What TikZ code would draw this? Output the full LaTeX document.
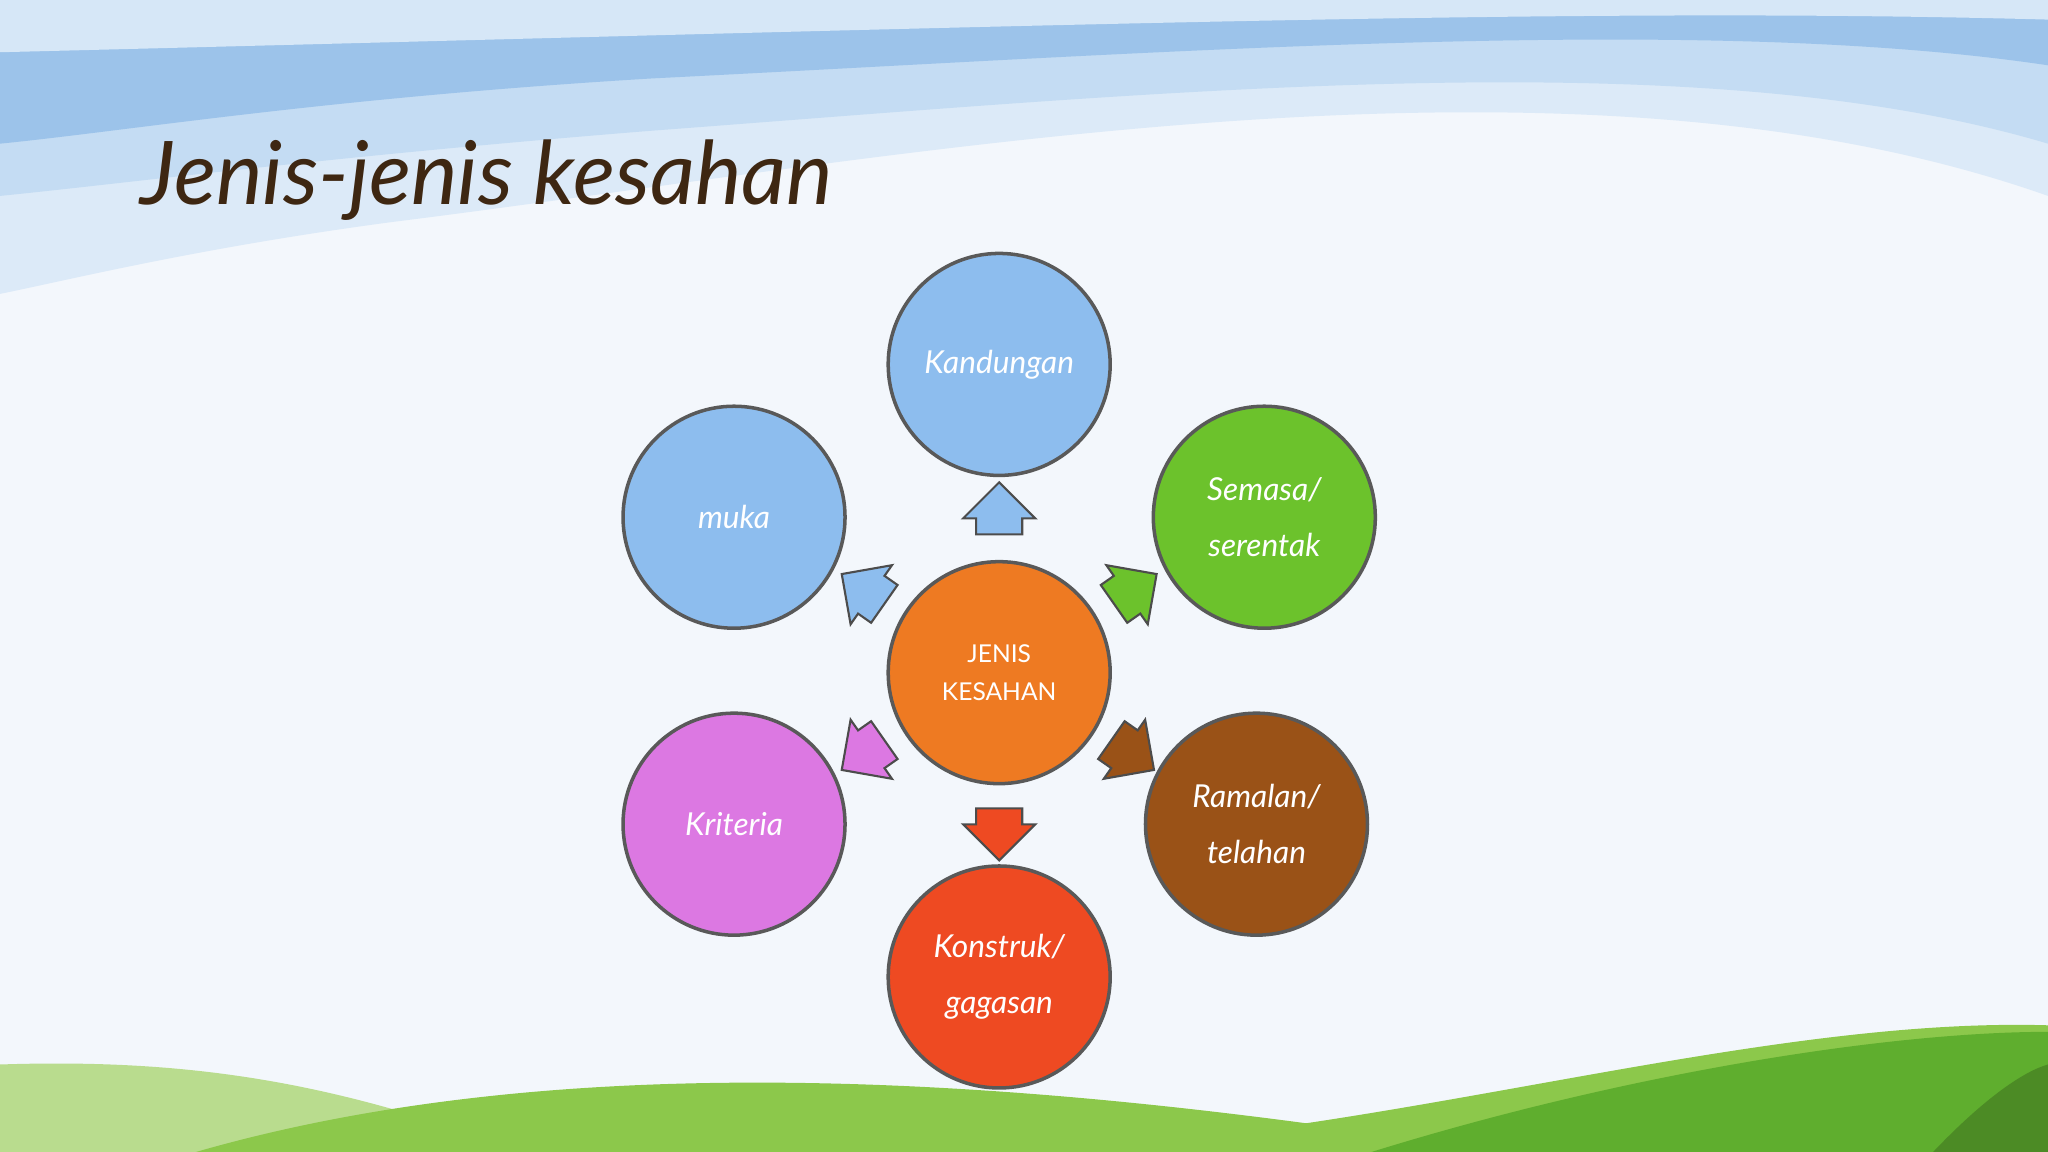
\documentclass[tikz,border=0pt]{standalone}
\usepackage{fontspec}
\setmainfont{Lato}
\usetikzlibrary{shapes.arrows}
\definecolor{bg}{HTML}{F3F7FC}
\definecolor{sky1}{HTML}{9CC3EA}
\definecolor{sky2}{HTML}{C4DCF3}
\definecolor{sky3}{HTML}{DCEAF8}
\definecolor{g1}{HTML}{5FAE2E}
\definecolor{g2}{HTML}{8CC84B}
\definecolor{g3}{HTML}{B9DC8E}
\definecolor{cblue}{HTML}{8DBDEE}
\definecolor{cgreen}{HTML}{6CC22C}
\definecolor{corange}{HTML}{EE7A22}
\definecolor{cbrown}{HTML}{9A5217}
\definecolor{cred}{HTML}{EE4A22}
\definecolor{cpink}{HTML}{DC78E2}
\definecolor{ttl}{HTML}{3E2712}
\tikzset{
  ball/.style={circle,draw=gray!70!black,line width=1pt,minimum size=2.22cm,text=white,font=\fontsize{9}{16}\selectfont\itshape,align=center,inner sep=0pt},
  barrow/.style={single arrow,draw=gray!60!black,line width=0.6pt,minimum height=0.52cm,inner xsep=0pt,inner ysep=0.22cm,single arrow head extend=0.13cm,single arrow head indent=0pt}
}
\begin{document}
\begin{tikzpicture}[x=0.013061cm,y=-0.013061cm]
\useasboundingbox (0,0) rectangle (1568,882);
\fill[bg] (0,0) rectangle (1568,882);
% sky
\fill[sky3] (0,0) -- (1568,0) -- (1568,150) .. controls (1200,20) and (700,120) .. (300,170) .. controls (150,190) and (50,215) .. (0,225) -- cycle;
\fill[sky2] (0,0) -- (1568,0) -- (1568,110) .. controls (1300,30) and (900,70) .. (500,100) .. controls (250,120) and (100,140) .. (0,150) -- cycle;
\fill[sky1] (0,0) -- (1568,0) -- (1568,50) .. controls (1300,10) and (900,40) .. (500,60) .. controls (250,75) and (100,100) .. (0,110) -- cycle;
\fill[sky2!70!white] (0,0) -- (1568,0) -- (1568,15) .. controls (1200,5) and (800,20) .. (0,40) -- cycle;
% hills
\fill[g3] (0,882) -- (0,815) .. controls (150,810) and (260,830) .. (400,882) -- cycle;
\fill[g2] (150,882) .. controls (400,810) and (700,820) .. (1000,860) .. controls (1200,830) and (1400,780) .. (1568,785) -- (1568,882) -- cycle;
\fill[g1] (1050,882) .. controls (1250,820) and (1450,790) .. (1568,790) -- (1568,882) -- cycle;
\fill[g1!80!black] (1480,882) .. controls (1520,840) and (1550,820) .. (1568,815) -- (1568,882) -- cycle;
% title
\node[anchor=west,text=ttl,font=\fontsize{25}{30}\selectfont\itshape] (title) at (98,138) {Jenis-jenis kesahan};
% circles
\node[ball,fill=corange,font=\fontsize{7}{11}\selectfont] (c) at (765,515) {JENIS\\KESAHAN};
\node[ball,fill=cblue] (k) at (765,279) {Kandungan};
\node[ball,fill=cgreen] (s) at (968,396) {Semasa/\\serentak};
\node[ball,fill=cbrown] (r) at (962,631) {Ramalan/\\telahan};
\node[ball,fill=cred] (g) at (765,748) {Konstruk/\\gagasan};
\node[ball,fill=cpink] (kr) at (562,631) {Kriteria};
\node[ball,fill=cblue] (m) at (562,396) {muka};
% arrows
\node[barrow,fill=cblue,rotate=90] (a1) at (765,398) {};
\node[barrow,fill=cgreen,rotate=35] (a2) at (862,456) {};
\node[barrow,fill=cbrown,rotate=-35] (a3) at (860,573) {};
\node[barrow,fill=cred,rotate=-90] (a4) at (765,630) {};
\node[barrow,fill=cpink,rotate=215] (a5) at (668,573) {};
\node[barrow,fill=cblue,rotate=145] (a6) at (668,456) {};
\end{tikzpicture}
\end{document}
